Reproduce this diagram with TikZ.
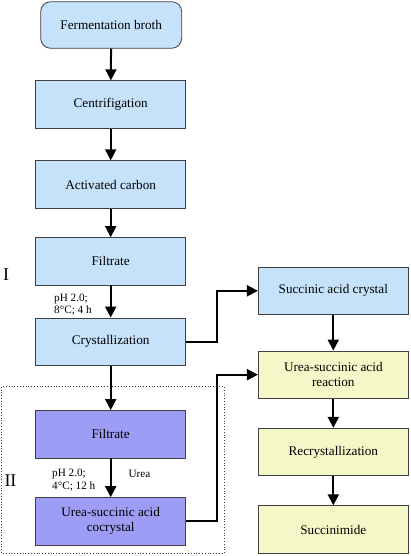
\documentclass[tikz,border=0pt]{standalone}
\usepackage{fontspec}
\setmainfont{Liberation Serif}
\usetikzlibrary{arrows.meta}
\definecolor{lblue}{HTML}{C6E2FA}
\definecolor{lpurple}{HTML}{9D9DF5}
\definecolor{lyellow}{HTML}{F5F7C8}
\definecolor{edge}{HTML}{404040}
\tikzset{
  box/.style={draw=edge, line width=0.8pt, minimum width=150pt, minimum height=47.5pt, align=center, inner sep=2pt, font=\rmfamily\fontsize{13.2}{15}\selectfont},
  bluebox/.style={box, fill=lblue},
  purplebox/.style={box, fill=lpurple},
  yellowbox/.style={box, fill=lyellow},
  arr/.style={line width=2pt, -{Triangle[length=11pt,width=11pt]}},
  cond/.style={align=left, inner sep=0pt, font=\rmfamily\fontsize{11.2}{12.5}\selectfont},
  roman/.style={inner sep=0pt, font=\rmfamily\fontsize{18}{20}\selectfont},
}
\begin{document}
\begin{tikzpicture}[x=1pt,y=-1pt]
\useasboundingbox (0,0) rectangle (410,556);
\draw[dotted, line width=0.8pt, edge] (1.7,386.7) rectangle (224,553.3);

\node[bluebox, rounded corners=10pt, minimum width=141pt, minimum height=46.6pt] (fb) at (111.2,25) {Fermentation broth};
\node[bluebox] (cf) at (110.7,104.5) {Centrifigation};
\node[bluebox] (ac) at (110.7,184.5) {Activated carbon};
\node[bluebox] (f1) at (110.7,261.3) {Filtrate};
\node[bluebox] (cr) at (110.7,341.7) {Crystallization};
\node[purplebox] (f2) at (110.7,434.2) {Filtrate};
\node[purplebox] (cc) at (110.7,521.3) {Urea-succinic acid\\cocrystal};

\node[bluebox] (sc) at (333.3,290.8) {Succinic acid crystal};
\node[yellowbox] (rx) at (333.3,374.7) {Urea-succinic acid\\reaction};
\node[yellowbox] (rc) at (333.3,452) {Recrystallization};
\node[yellowbox] (sm) at (333.3,529.5) {Succinimide};

\node[roman] (r1) at (6,275) {I};
\node[roman] (r2) at (10.5,480.7) {II};

\node[cond, anchor=west] (c1) at (54,304.5) {pH 2.0;\\8°C; 4 h};
\node[cond, anchor=west] (c2) at (52,480) {pH 2.0;\\4°C; 12 h};
\node[cond] (urea) at (139.5,474) {Urea};

\draw[arr] (fb) -- (cf);
\draw[arr] (cf) -- (ac);
\draw[arr] (ac) -- (f1);
\draw[arr] (f1) -- (cr);
\draw[arr] (cr) -- (f2);
\draw[arr] (f2) -- (cc);
\draw[arr] (sc) -- (rx);
\draw[arr] (rx) -- (rc);
\draw[arr] (rc) -- (sm);

\coordinate (j1) at (216.7,0);
\draw[arr] (cr.east) -- (cr.east -| j1) -- (sc.west -| j1) -- (sc.west);
\draw[arr] (cc.east) -- (cc.east -| j1) -- (rx.west -| j1) -- (rx.west);
\end{tikzpicture}
\end{document}
